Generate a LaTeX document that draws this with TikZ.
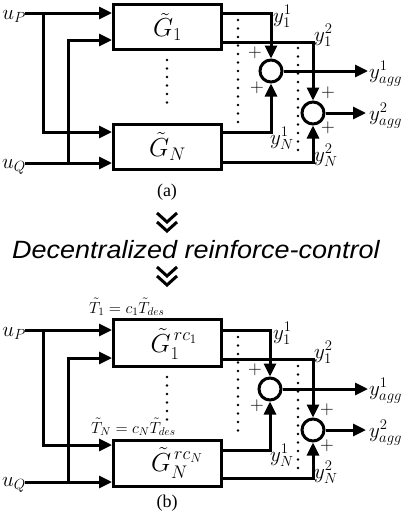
\RequirePackage{fix-cm}
\documentclass[tikz,border=0pt]{standalone}
\usepackage{amsmath}
\usepackage{fontspec}
\newfontfamily\capfont{Liberation Serif}
\newfontfamily\headfont{Liberation Sans}
\usetikzlibrary{arrows.meta, calc}

\begin{document}
\begin{tikzpicture}[x = 1pt, y = -1pt,
  wire/.style = {line width = 3pt},
  sig/.style = {wire, -{Triangle[length = 13pt, width = 12pt]}},
  blk/.style = {draw, line width = 3pt, minimum width = 108pt, minimum height = 45pt, inner sep = 0pt, font = \fontsize{26}{28}\selectfont},
  sumnode/.style = {draw, circle, line width = 3pt, minimum size = 22pt, inner sep = 0pt},
  dotline/.style = {line width = 2.8pt, line cap = round, dash pattern = on 0pt off 8.5pt},
  lbl/.style = {inner sep = 0pt, font = \fontsize{21}{22}\selectfont},
  glbl/.style = {inner sep = 0pt, font = \fontsize{26}{28}\selectfont},
  tlbl/.style = {inner sep = 0pt, font = \fontsize{16}{17}\selectfont},
  plus/.style = {inner sep = 0pt, font = \fontsize{19}{19}\selectfont}]
\useasboundingbox (0, 0) rectangle (402, 512);

% (a) plain aggregation
\node[blk] (aG1) at (167.5, 27) {$\tilde{G}_1$};
\node[blk] (aGN) at (167.5, 146.5) {$\tilde{G}_N$};
\node[sumnode] (aS1) at (271, 71) {};
\node[sumnode] (aS2) at (313, 113) {};
\coordinate (aP) at (25, 13);
\coordinate (aQ) at (25, 163);
\coordinate (aBP) at (43, 13);
\coordinate (aBQ) at (68, 163);
\coordinate (aY1) at (368, 71);
\coordinate (aY2) at (366, 113);
\node[lbl, anchor = base east] (aPl) at (26, 19) {$u_P$};
\node[lbl, anchor = base east] (aQl) at (26, 168) {$u_Q$};
\draw[sig] (aP) -- (aP -| aG1.west);
\draw[sig] (aQ) -- (aQ -| aGN.west);
\draw[sig] (aBP) |- ([yshift = 14.5pt]aGN.west);
\draw[sig] (aBQ) |- ([yshift = -13pt]aG1.west);
\draw[sig] ([yshift = 14pt]aG1.east) -| (aS1.north);
\draw[sig] ([yshift = -15pt]aG1.east) -| (aS2.north);
\draw[sig] ([yshift = 14.5pt]aGN.east) -| (aS1.south);
\draw[sig] ([yshift = -15.5pt]aGN.east) -| (aS2.south);
\draw[sig] (aS1.east) -- (aY1);
\draw[sig] (aS2.east) -- (aY2);
\draw[dotline] (167, 60) -- (167, 103);
\draw[dotline] (238, 20) -- (238, 122);
\draw[dotline] (298, 48) -- (298, 150);
\node[lbl, anchor = base west] (aY11) at (273, 22) {$y_1^1$};
\node[lbl, anchor = base west] (aY12) at (314, 41) {$y_1^2$};
\node[lbl, anchor = base west] (aYN1) at (270, 144) {$y_N^1$};
\node[lbl, anchor = base west] (aYN2) at (314, 161) {$y_N^2$};
\node[lbl, anchor = base west] (aYa1) at (369, 78) {$y_{agg}^1$};
\node[lbl, anchor = base west] (aYa2) at (369, 120) {$y_{agg}^2$};
\node[plus] (aP1) at (255, 53) {$+$};
\node[plus] (aP2) at (257, 88) {$+$};
\node[plus] (aP3) at (328, 93) {$+$};
\node[plus] (aP4) at (328, 128) {$+$};
\node[font = \capfont\fontsize{18}{19}\selectfont] (acap) at (167, 192) {(a)};

% step in between
\draw[wire] (157, 213) -- (167, 222) -- (177, 213);
\draw[wire] (157, 222) -- (167, 231) -- (177, 222);
\node[font = \headfont\itshape\fontsize{25}{27}\selectfont, xscale = 1.08] (step) at (196, 250) {Decentralized reinforce-control};
\draw[wire] (157, 267) -- (167, 276) -- (177, 267);
\draw[wire] (157, 276) -- (167, 285) -- (177, 276);

% (b) reinforce-controlled aggregation
\node[blk, minimum height = 47pt] (bG1) at (167.5, 343) {};
\node[blk, minimum height = 46pt] (bGN) at (167.5, 463.5) {};
\node[glbl] (bG1t) at (174, 344) {${\tilde{G}_1}^{\,rc_1}$};
\node[glbl] (bGNt) at (177, 463) {${\tilde{G}_N}^{\,rc_N}$};
\node[sumnode] (bS1) at (270, 389) {};
\node[sumnode] (bS2) at (313, 430) {};
\coordinate (bP) at (25, 330);
\coordinate (bQ) at (25, 482);
\coordinate (bBP) at (43, 330);
\coordinate (bBQ) at (68, 482);
\coordinate (bY1) at (368, 389);
\coordinate (bY2) at (366, 430);
\node[lbl, anchor = base east] (bPl) at (26, 336) {$u_P$};
\node[lbl, anchor = base east] (bQl) at (26, 486) {$u_Q$};
\node[tlbl, anchor = base west] (bT1) at (89, 313) {$\tilde{T}_1 = c_1\tilde{T}_{des}$};
\node[tlbl, anchor = base west] (bTN) at (91, 433) {$\tilde{T}_N = c_N\tilde{T}_{des}$};
\draw[sig] (bP) -- (bP -| bG1.west);
\draw[sig] (bQ) -- (bQ -| bGN.west);
\draw[sig] (bBP) |- ([yshift = 18.5pt]bGN.west);
\draw[sig] (bBQ) |- ([yshift = -15pt]bG1.west);
\draw[sig] ([yshift = 13pt]bG1.east) -| (bS1.north);
\draw[sig] ([yshift = -16pt]bG1.east) -| (bS2.north);
\draw[sig] ([yshift = 13.5pt]bGN.east) -| (bS1.south);
\draw[sig] ([yshift = -14.5pt]bGN.east) -| (bS2.south);
\draw[sig] (bS1.east) -- (bY1);
\draw[sig] (bS2.east) -- (bY2);
\draw[dotline] (167, 377) -- (167, 422);
\draw[dotline] (238, 337) -- (238, 437);
\draw[dotline] (298, 366) -- (298, 468);
\node[lbl, anchor = base west] (bY11) at (273, 339) {$y_1^1$};
\node[lbl, anchor = base west] (bY12) at (314, 358) {$y_1^2$};
\node[lbl, anchor = base west] (bYN1) at (270, 461) {$y_N^1$};
\node[lbl, anchor = base west] (bYN2) at (314, 478) {$y_N^2$};
\node[lbl, anchor = base west] (bYa1) at (369, 395) {$y_{agg}^1$};
\node[lbl, anchor = base west] (bYa2) at (369, 437) {$y_{agg}^2$};
\node[plus] (bP1) at (255, 370) {$+$};
\node[plus] (bP2) at (257, 406) {$+$};
\node[plus] (bP3) at (327, 410) {$+$};
\node[plus] (bP4) at (327, 446) {$+$};
\node[font = \capfont\fontsize{18}{19}\selectfont] (bcap) at (167, 503) {(b)};
\end{tikzpicture}
\end{document}
